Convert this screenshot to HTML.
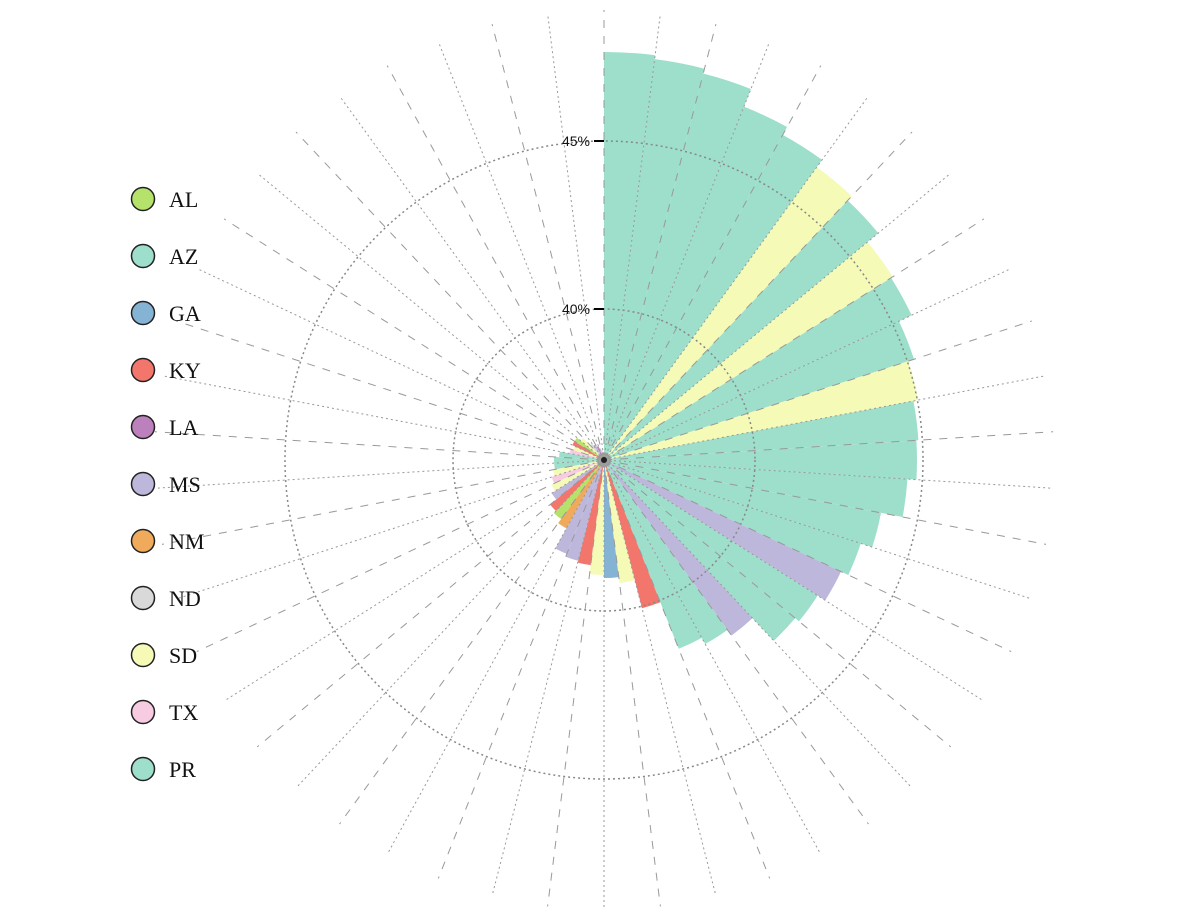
<!DOCTYPE html>
<html><head><meta charset="utf-8"><style>
html,body{margin:0;padding:0;background:#fff;width:1200px;height:920px;overflow:hidden}
svg{display:block}
.lg{font-family:"Liberation Serif",serif;font-size:22px;fill:#111}
.ax{font-family:"Liberation Sans",sans-serif;font-size:14px;fill:#111}
</style></head><body>
<svg id="s" width="1200" height="920" xmlns="http://www.w3.org/2000/svg"></svg>
<script>
var s=document.getElementById('s'),cx=604,cy=460,NS='http://www.w3.org/2000/svg';
function el(t,a,txt){var e=document.createElementNS(NS,t);for(var k in a)e.setAttribute(k,a[k]);if(txt)e.textContent=txt;s.appendChild(e);return e;}
var C={T:'#9ddfcb',Y:'#f5fbb6',L:'#bdb8db',R:'#f3766c',B:'#85b3d4',O:'#f0aa5c',G:'#b5e26b',P:'#f7cbe1',D:'#d9d9d9',M:'#bc80bd'};
var w=[['T',408],['T',404],['T',399],['T',380],['T',371],['Y',362],['T',356],['Y',342],['T',340],['T',326],['Y',320],['T',315],['T',313],['T',304],['T',282],['T',270],['L',262],['T',253],['T',248],['L',217],['T',210],['T',203],['R',153],['Y',124],['B',118],['Y',115],['R',106],['L',104],['L',101],['O',78],['G',73],['R',70],['L',62],['Y',58],['P',55],['Y',52],['T',50],['T',50],['T',45],['P',35],['Y',32],['R',35],['G',35],['Y',30],['D',20],['L',18],['M',15],['D',12],['P',10],['D',8]];
var st=7.2*Math.PI/180;
function pt(a,r){return [cx+r*Math.sin(a),cy-r*Math.cos(a)];}
w.forEach(function(d,i){var a0=i*st,a1=(i+1)*st,r=d[1];var p0=pt(a0,r),p1=pt(a1,r);
el('path',{d:'M'+cx+','+cy+'L'+p0[0]+','+p0[1]+'A'+r+','+r+' 0 0 1 '+p1[0]+','+p1[1]+'Z',fill:C[d[0]]});});
[151,319].forEach(function(r){el('circle',{cx:cx,cy:cy,r:r,fill:'none',stroke:'#888','stroke-width':1.5,'stroke-dasharray':'2,3'});});
for(var k=0;k<50;k++){var a=k*st,p=pt(a,450);el('line',{x1:cx,y1:cy,x2:p[0],y2:p[1],stroke:'#999','stroke-width':1,'stroke-dasharray':k%2?'2,3':'8,8'});}
el('circle',{cx:cx,cy:cy,r:3,fill:'#222'});
[[141,'45%'],[309,'40%']].forEach(function(t){el('line',{x1:594,y1:t[0],x2:604,y2:t[0],stroke:'#000','stroke-width':2});el('text',{x:590,y:t[0]+5,'text-anchor':'end','class':'ax'},t[1]);});
var L=[['AL','#b5e26b'],['AZ','#9ddfcb'],['GA','#85b3d4'],['KY','#f3766c'],['LA','#bc80bd'],['MS','#bdb8db'],['NM','#f0aa5c'],['ND','#d9d9d9'],['SD','#f5fbb6'],['TX','#f7cbe1'],['PR','#9ddfcb']];
L.forEach(function(l,i){var y=199+57*i;el('circle',{cx:143,cy:y,r:11.5,fill:l[1],stroke:'#222','stroke-width':1.5});el('text',{x:169,y:y+8,'class':'lg'},l[0]);});
</script>
</body></html>
